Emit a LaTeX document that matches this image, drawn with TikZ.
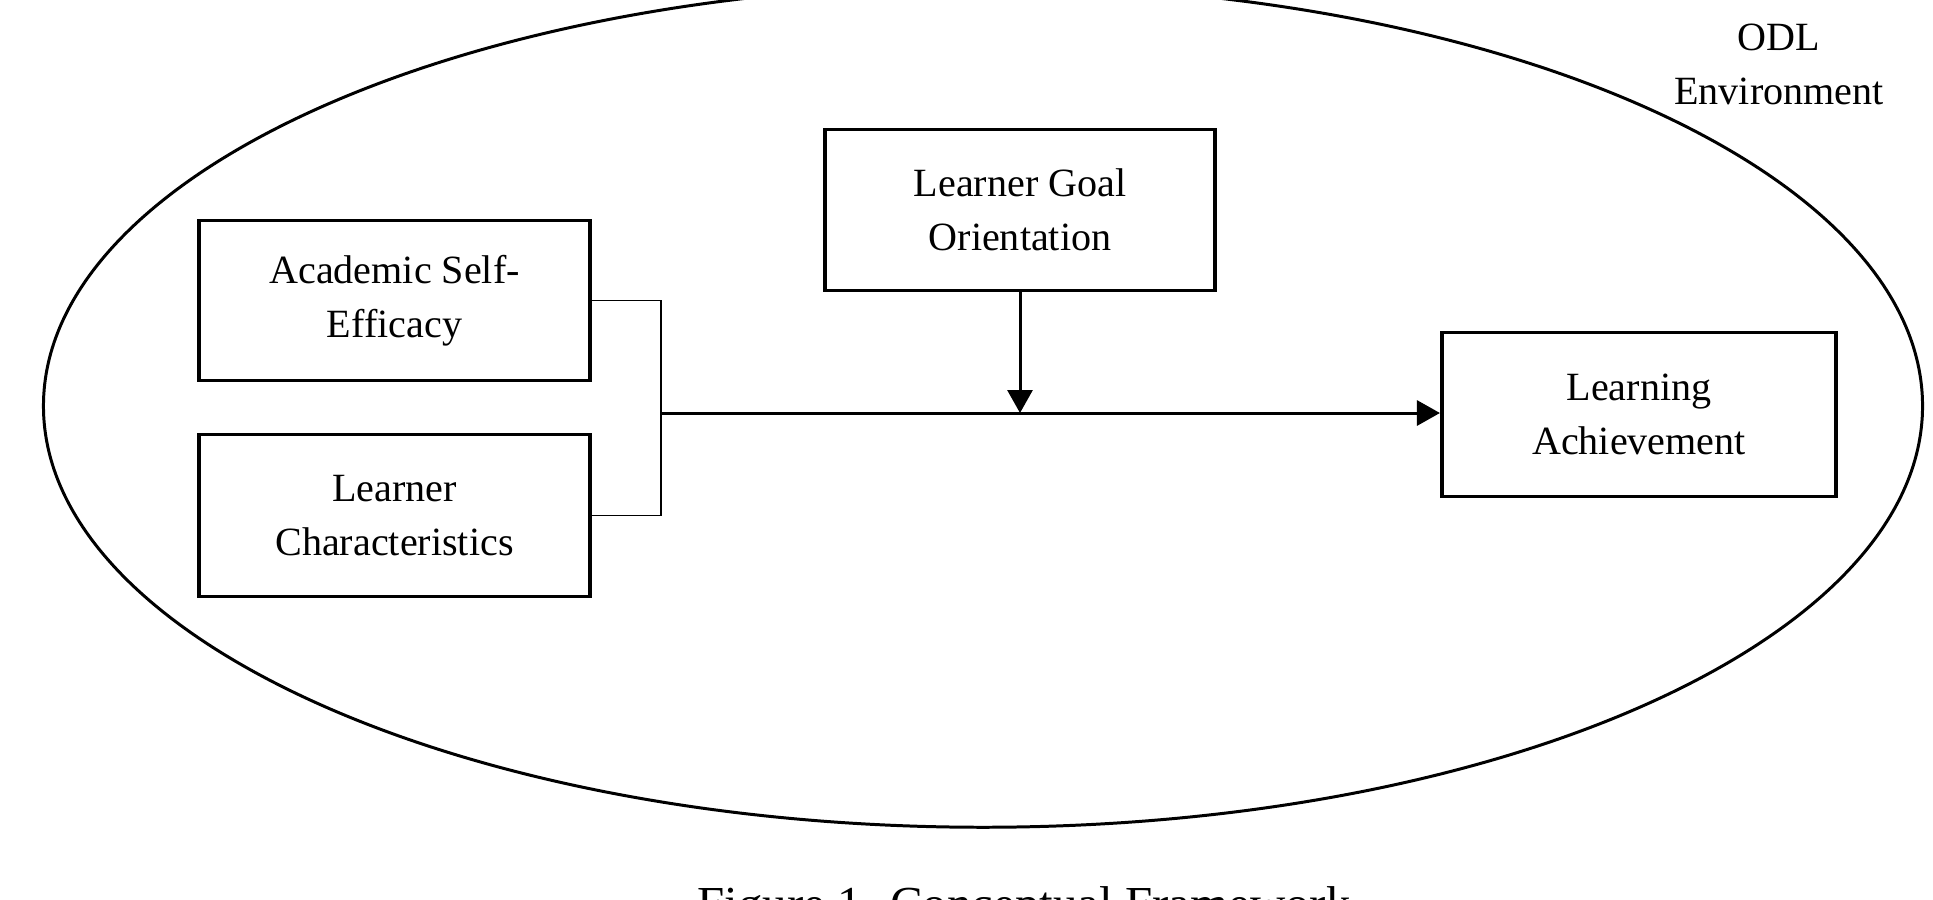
\documentclass[tikz,border=0pt]{standalone}
\usepackage{fontspec}
\setmainfont{Liberation Serif}
\usetikzlibrary{arrows.meta}
\newcommand\figfont{\fontsize{11.4}{15.4}\selectfont}
\newcommand\capfont{\fontsize{13.9}{16}\selectfont}
\begin{document}
\begin{tikzpicture}[x=0.01cm,y=-0.01cm,
  box/.style={draw,line width=1.1pt,minimum width=3.91cm,minimum height=1.62cm,align=center,inner sep=0pt,font=\figfont},
  thinline/.style={line width=0.55pt},
  mainline/.style={line width=0.85pt},
  tip/.style={-{Triangle[length=0.23cm,width=0.25cm]}}
]
\useasboundingbox (0,0) rectangle (1933,899);
\clip (0,0) rectangle (1933,899);
\draw[line width=0.85pt] (983,406) ellipse [x radius=9.39cm, y radius=4.21cm];
\node[font=\figfont,align=center] (odl) at (1779,64) {ODL\\Environment};
\node[box,minimum height=1.60cm] (ase) at (394.5,300.5) {Academic Self-\\Efficacy};
\node[box] (lc) at (394.5,515.5) {Learner\\Characteristics};
\node[box,minimum width=3.90cm,minimum height=1.61cm] (lgo) at (1020,210) {Learner Goal\\Orientation};
\node[box,minimum width=3.94cm,minimum height=1.64cm] (la) at (1639,414.5) {Learning\\Achievement};
\coordinate (j) at (661,413);
\draw[thinline] (ase.east) -| (j) |- (lc.east);
\draw[mainline,tip] (j) -- (j -| la.west);
\draw[mainline,tip] (lgo.south) -- (lgo.south |- j);
\node[font=\capfont,anchor=base] (cap) at (1024,920) {Figure 1. Conceptual Framework};
\end{tikzpicture}
\end{document}
